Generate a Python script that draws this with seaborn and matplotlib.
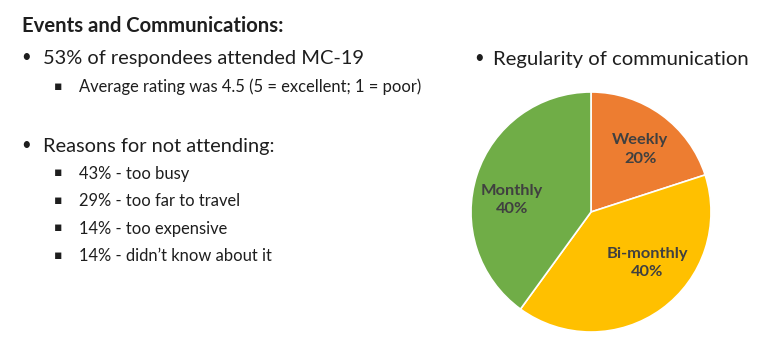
import matplotlib
matplotlib.use('Agg')
import matplotlib.pyplot as plt
import seaborn as sns

# データ
categories = ['Weekly', 'Bi-monthly', 'Monthly']
shares = [20, 40, 40]
slice_colors = ['#ED7D31', '#FFC000', '#70AD47']

title = 'Events and Communications:'
attended = '53% of respondees attended MC-19'
rating = 'Average rating was 4.5 (5 = excellent; 1 = poor)'
reasons_head = 'Reasons for not attending:'
reasons = ['43% - too busy', '29% - too far to travel',
           '14% - too expensive', '14% - didn\u2019t know about it']
pie_head = 'Regularity of communication'

sns.set_theme(style='white')
plt.rcParams['font.family'] = ['Lato', 'DejaVu Sans']

W, H = 768, 351
fig = plt.figure(figsize=(W / 100, H / 100), dpi=100)
fig.patch.set_facecolor('white')

txt_color = '#1e1e1e'


def put(x, y, s, **kw):
    # ピクセル座標 → figure座標
    fig.text(x / W, 1 - y / H, s, va='baseline', ha='left', color=txt_color, **kw)


def bullet(x, y):
    fig.text(x / W, 1 - y / H, '\u2022', va='center', ha='center',
             fontsize=12, color=txt_color)


def square(x, y):
    fig.text(x / W, 1 - y / H, '\u25aa', va='center', ha='center',
             fontsize=9, color=txt_color, family='DejaVu Sans')


put(22, 32, title, fontsize=14.6, fontweight='bold')

bullet(26, 57)
put(43, 64, attended, fontsize=14.4)
square(58, 86)
put(79, 92, rating, fontsize=11.9)

bullet(26, 145)
put(43, 152, reasons_head, fontsize=14.4)
for i, r in enumerate(reasons):
    yb = 179 + i * 27.4
    square(58, yb - 6)
    put(79, yb, r, fontsize=11.9)

bullet(479, 58)
put(493, 65, pie_head, fontsize=14.6)

# 円グラフ
cx, cy, rad = 591, 212, 120
ax = fig.add_axes([(cx - rad) / W, 1 - (cy + rad) / H, 2 * rad / W, 2 * rad / H])
wedges, _ = ax.pie(shares, colors=slice_colors, startangle=90, counterclock=False,
                   wedgeprops=dict(edgecolor='white', linewidth=1.2))
ax.set_xlim(-1, 1)
ax.set_ylim(-1, 1)
ax.set_aspect('equal')
ax.axis('off')

label_pos = [(0.41, 0.52), (0.47, -0.425), (-0.66, 0.10)]
for cat, val, (lx, ly) in zip(categories, shares, label_pos):
    ax.text(lx, ly, f'{cat}\n{val}%', ha='center', va='center',
            fontsize=11.8, fontweight='bold', color='#404040', linespacing=1.45)

plt.savefig('out.png', dpi=100)
